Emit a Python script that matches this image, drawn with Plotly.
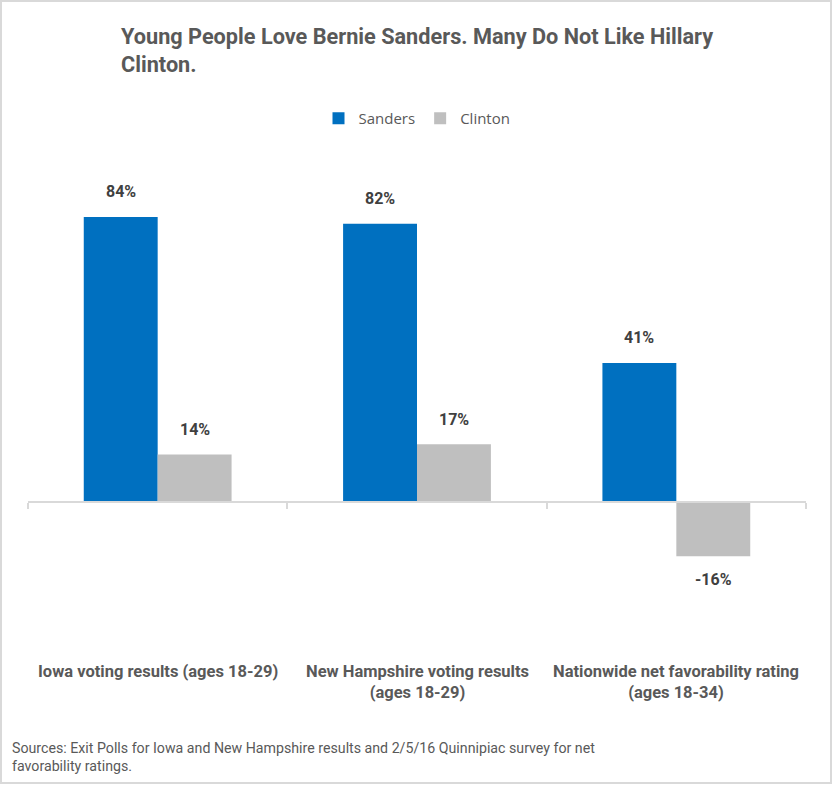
import plotly.graph_objects as go

categories = ["Iowa voting results (ages 18-29)",
              "New Hampshire voting results<br>(ages 18-29)",
              "Nationwide net favorability rating<br>(ages 18-34)"]
sanders = [84, 82, 41]
clinton = [14, 17, -16]
series_names = ["Sanders", "Clinton"]
colors = ["#0070C0", "#BFBFBF"]

W, H = 833, 785
ML, MR, MT, MB = 28, 27, 150, 145
YMIN, YMAX = -40.67, 103.74
BARGAP = 0.43

COND = "Roboto, Inter, sans-serif"
TEXTC = "#595959"

xs = list(range(len(categories)))
fig = go.Figure()
for name, vals, col in zip(series_names, [sanders, clinton], colors):
    fig.add_trace(go.Bar(x=xs, y=vals, name=name, marker_color=col, marker_line_width=0))

pw = W - ML - MR
ph = H - MT - MB
zero_pos = (0 - YMIN) / (YMAX - YMIN)
bw = (1 - BARGAP) / 2

annotations = []
for k, vals in enumerate([sanders, clinton]):
    off = (k - 0.5) * bw
    for i, v in enumerate(vals):
        annotations.append(dict(x=i + off, xref="x", y=v, yref="y", text=f"{v}%",
                                showarrow=False, yanchor="middle",
                                yshift=25 if v >= 0 else -23,
                                font=dict(family=COND, size=16, color="#404040", weight="bold")))
for i, c in enumerate(categories):
    annotations.append(dict(x=i, xref="x", y=(H - MB - 660) / ph, yref="paper",
                            yanchor="top", text=c, showarrow=False,
                            font=dict(family=COND, size=16.5, color=TEXTC, weight="bold"),
                            align="center"))
annotations.append(dict(x=(10 - ML) / pw, xref="paper", y=(H - MB - 738) / ph, yref="paper",
                        xanchor="left", yanchor="top", align="left", showarrow=False,
                        text="Sources: Exit Polls for Iowa and New Hampshire results and 2/5/16 Quinnipiac survey for net<br>favorability ratings.",
                        font=dict(family=COND, size=14.2, color=TEXTC)))

fig.update_layout(
    width=W, height=H,
    margin=dict(l=ML, r=MR, t=MT, b=MB, pad=0),
    paper_bgcolor="white", plot_bgcolor="white",
    barmode="group", bargap=BARGAP, bargroupgap=0,
    title=dict(text="Young People Love Bernie Sanders. Many Do Not Like Hillary<br>Clinton.",
               x=121 / W, xanchor="left", y=1 - 44 / H, yanchor="top",
               font=dict(family=COND, size=21.7, color=TEXTC, weight="bold")),
    legend=dict(orientation="h", x=0.5, xanchor="center", y=(H - MB - 102) / ph, yanchor="top",
                font=dict(family="Open Sans, Noto Sans, sans-serif", size=15, color=TEXTC),
                traceorder="normal"),
    xaxis=dict(range=[-0.5, 2.5], showticklabels=False, showgrid=False, zeroline=False,
               showline=True, linecolor="#D9D9D9", linewidth=2,
               ticks="outside", ticklen=6, tickcolor="#D9D9D9", tickwidth=2,
               anchor="free", position=zero_pos, tickmode="array",
               tickvals=[-0.5, 0.5, 1.5, 2.5]),
    yaxis=dict(range=[YMIN, YMAX], visible=False, showgrid=False, zeroline=False),
    annotations=annotations,
    shapes=[dict(type="rect", xref="paper", yref="paper",
                 x0=(1 - ML) / pw, x1=(W - 2 - ML) / pw,
                 y0=(H - MB - (H - 2)) / ph, y1=(H - MB - 1) / ph,
                 line=dict(color="#D9D9D9", width=2), fillcolor="rgba(0,0,0,0)", layer="below")],
    showlegend=True,
)
fig.write_html("out.html")
